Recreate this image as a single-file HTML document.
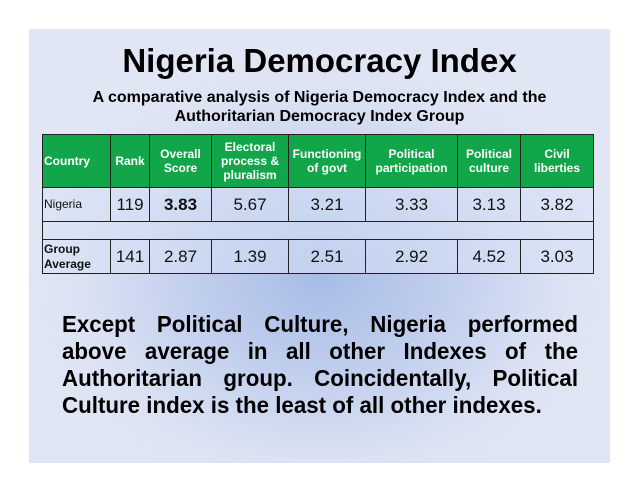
<!DOCTYPE html>
<html><head><meta charset="utf-8"><style>
body{margin:0;width:638px;height:493px;background:#fff;position:relative;overflow:hidden;font-family:"Liberation Sans",Arial,sans-serif}
#slide{position:absolute;left:29px;top:29px;width:581px;height:434px;background:radial-gradient(ellipse 300px 230px at 291px 250px,#a7bce6 0%,#c3d0ee 45%,#dbe2f3 80%,#e1e6f4 100%)}
h1{position:absolute;left:0;width:581px;top:13px;margin:0;text-align:center;font-size:33px;font-weight:bold;color:#000}
#sub{position:absolute;left:0;width:581px;top:59px;text-align:center;font-size:16px;font-weight:bold;line-height:19px}
table{position:absolute;left:13px;top:105px;border-collapse:collapse;font-family:"Liberation Sans",sans-serif}
td{border:1.5px solid #222;text-align:center;padding:0;color:#111}
tr.h td{background:#12a64a;color:#fff;font-weight:bold;font-size:12px;line-height:14px;height:52px}
tr.r td{font-size:17px;height:33px;background:rgba(215,225,245,0.55)}
tr.g td{height:17px;background:rgba(215,225,245,0.55)}
td.c{text-align:left;font-size:12px!important;padding-left:1px;line-height:15px}
#para{position:absolute;left:33px;top:282px;font-size:23px;font-weight:bold;line-height:27px;color:#000}
#para div{width:532px;text-align:justify;text-align-last:justify;transform:scale(0.97,1);transform-origin:0 0;white-space:nowrap}
#para div.last{text-align-last:left}
</style></head><body>
<div id="slide">
<h1>Nigeria Democracy Index</h1>
<div id="sub">A comparative analysis of Nigeria Democracy Index and the<br>Authoritarian Democracy Index Group</div>
<table>
<colgroup><col style="width:68px"><col style="width:39px"><col style="width:62px"><col style="width:77px"><col style="width:77px"><col style="width:92px"><col style="width:63px"><col style="width:73px"></colgroup>
<tr class="h"><td class="c">Country</td><td>Rank</td><td>Overall<br>Score</td><td>Electoral<br>process &amp;<br>pluralism</td><td>Functioning<br>of govt</td><td>Political<br>participation</td><td>Political<br>culture</td><td>Civil<br>liberties</td></tr>
<tr class="r"><td class="c">Nigeria</td><td>119</td><td style="font-weight:bold">3.83</td><td>5.67</td><td>3.21</td><td>3.33</td><td>3.13</td><td>3.82</td></tr>
<tr class="g"><td colspan="8"></td></tr>
<tr class="r"><td class="c" style="font-weight:bold">Group<br>Average</td><td>141</td><td>2.87</td><td>1.39</td><td>2.51</td><td>2.92</td><td>4.52</td><td>3.03</td></tr>
</table>
<div id="para">
<div>Except Political Culture, Nigeria performed</div>
<div>above average in all other Indexes of the</div>
<div>Authoritarian group. Coincidentally, Political</div>
<div class="last">Culture index is the least of all other indexes.</div>
</div>
</div>
</body></html>
